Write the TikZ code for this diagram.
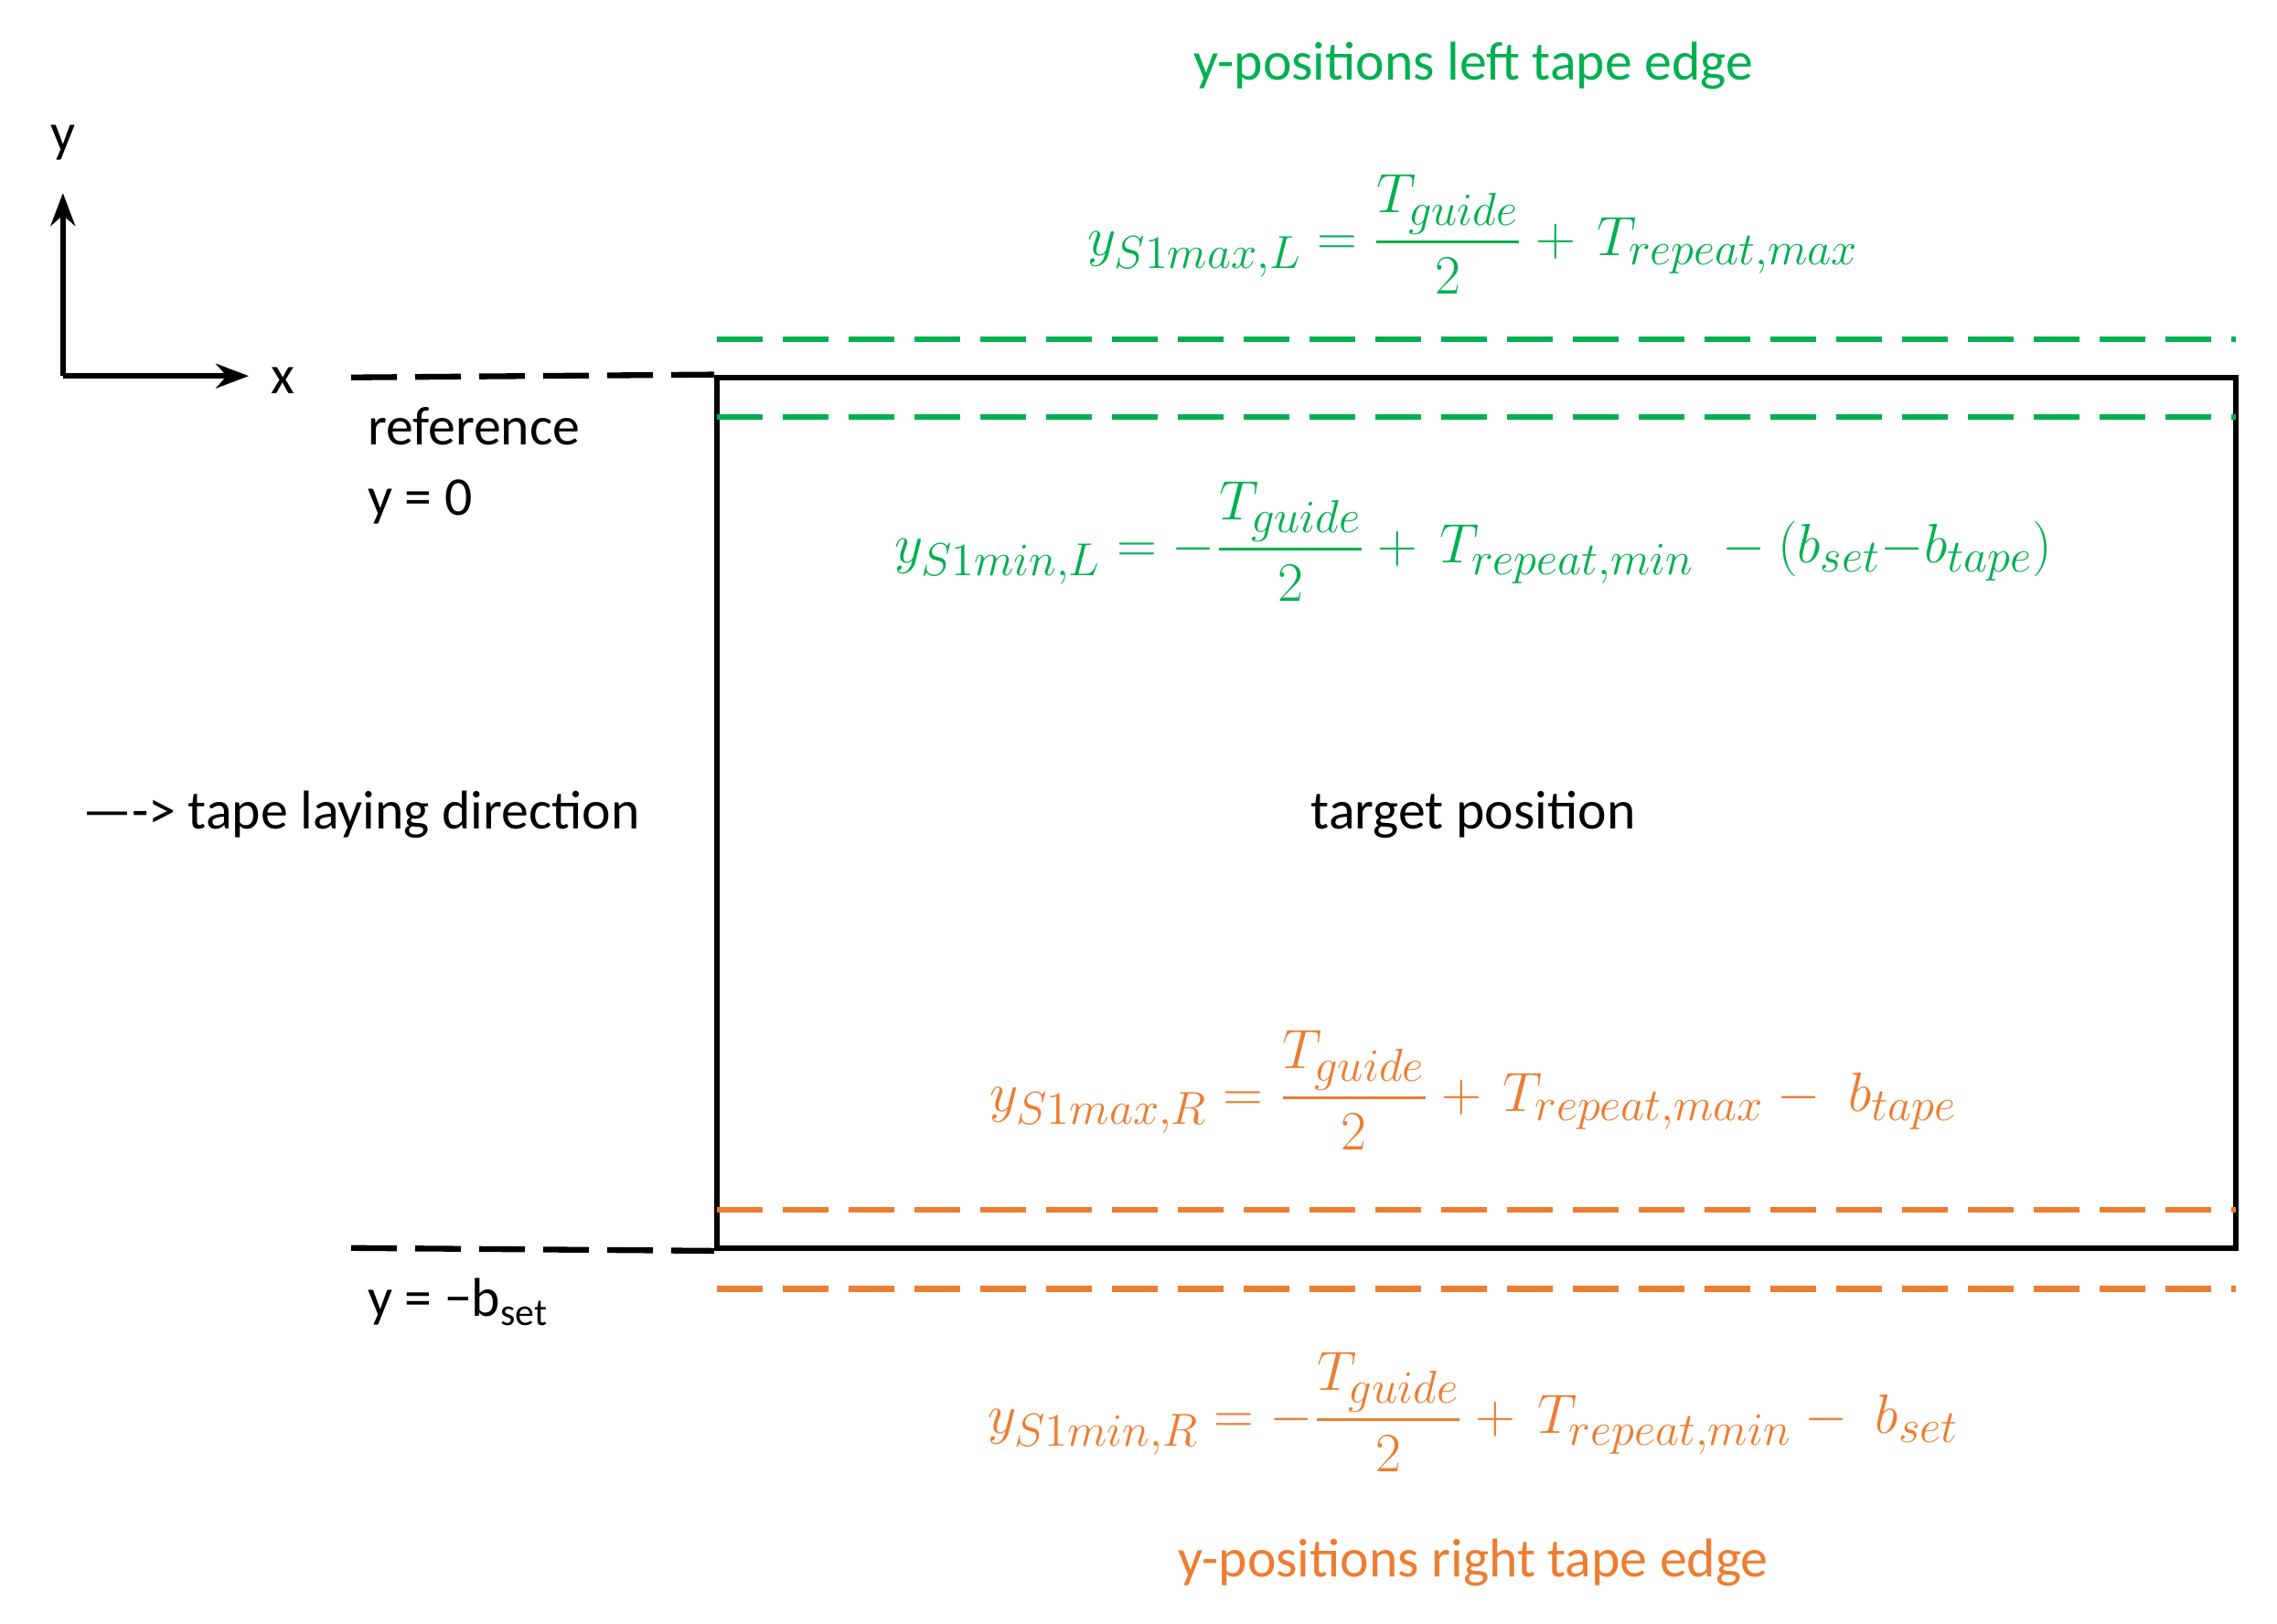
\documentclass[tikz,border=0pt]{standalone}
\usepackage{amsmath}
\usepackage{fontspec}
\setmainfont{Carlito}
\usetikzlibrary{arrows.meta,positioning}
\definecolor{edgeGreen}{RGB}{0, 176, 80}
\definecolor{edgeOrange}{RGB}{237, 125, 49}

\begin{document}
\begin{tikzpicture}[
        txt/.style={inner sep=1pt, font=\fontsize{17}{20}\selectfont},
        lbl/.style={txt, anchor=west, align=left},
        formula/.style={inner sep=1pt, font=\fontsize{19}{22}\selectfont},
        axis/.style={-Stealth, line width=1.6pt},
        refline/.style={line width=1.8pt, dash pattern=on 0.5cm off 0.2cm},
        bound/.style={line width=1.8pt, dash pattern=on 0.5cm off 0.22cm}
    ]
        \useasboundingbox (0,0) rectangle (24.9,17.76);

        % Axes
        \coordinate (o) at (0.688,13.648);
        \coordinate (yend) at (0.688,15.648);
        \coordinate (xend) at (2.72,13.648);
        \draw[axis] (o) -- (yend);
        \draw[axis] (o) -- (xend);
        \node[txt] (ylab) at (0.688,16.2) {y};
        \node[txt] (xlab) at (3.09,13.6) {x};

        % Target rectangle
        \node[draw, line width=1.8pt, minimum width=16.608cm, minimum height=9.52cm, inner sep=0] (tgt) at (16.144,8.872) {};
        \node[txt] (tpos) at (16.112,8.848) {target position};

        % Reference lines
        \coordinate (r0) at (3.84,13.632);
        \coordinate (r1) at (3.84,4.112);
        \draw[refline] (r0) -- (tgt.north west);
        \draw[refline] (r1) -- (tgt.south west);
        \node[lbl] (ref) at (3.98,13.1) {reference};
        \node[lbl] (yzero) at (3.98,12.27) {y = 0};
        \node[lbl] (yset) at (3.98,3.52) {y = −b\textsubscript{set}};
        \node[txt] (dir) at (3.95,8.848) {----> tape laying direction};

        % Left tape edge (green)
        \coordinate (g1a) at (7.84,14.048);
        \coordinate (g1b) at (24.448,14.048);
        \coordinate (g2a) at (7.84,13.2);
        \coordinate (g2b) at (24.448,13.2);
        \draw[bound, edgeGreen] (g1a) -- (g1b);
        \draw[bound, edgeGreen] (g2a) -- (g2b);
        \node[txt, text=edgeGreen] (gtitle) at (16.112,17.04) {y-positions left tape edge};
        \node[formula, text=edgeGreen] (gmax) at (16.112,15.2)
            {$y_{S1max,L}=\dfrac{T_{guide}}{2}+\,T_{repeat,max}$};
        \node[formula, text=edgeGreen] (gmin) at (16.112,11.84)
            {$y_{S1min,L}=-\dfrac{T_{guide}}{2}+\,T_{repeat,min}\;-(b_{set}{-}b_{tape})$};

        % Right tape edge (orange)
        \coordinate (o1a) at (7.84,4.528);
        \coordinate (o1b) at (24.448,4.528);
        \coordinate (o2a) at (7.84,3.664);
        \coordinate (o2b) at (24.448,3.664);
        \draw[bound, edgeOrange] (o1a) -- (o1b);
        \draw[bound, edgeOrange] (o2a) -- (o2b);
        \node[formula, text=edgeOrange] (omax) at (16.112,5.84)
            {$y_{S1max,R}=\dfrac{T_{guide}}{2}+\,T_{repeat,max}-\;b_{tape}$};
        \node[formula, text=edgeOrange] (omin) at (16.112,2.32)
            {$y_{S1min,R}=-\dfrac{T_{guide}}{2}+\,T_{repeat,min}-\;b_{set}$};
        \node[txt, text=edgeOrange] (otitle) at (16.112,0.672) {y-positions right tape edge};
    \end{tikzpicture}
\end{document}
